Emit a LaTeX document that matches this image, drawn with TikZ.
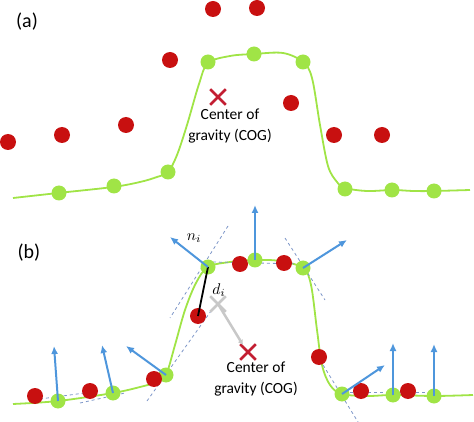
\documentclass[tikz,border=0pt]{standalone}
\usepackage{fontspec}
\setmainfont{Carlito}
\usetikzlibrary{arrows.meta,shapes.misc}
\definecolor{limeg}{RGB}{160,228,70}
\definecolor{reddot}{RGB}{200,16,16}
\definecolor{xred}{RGB}{195,30,50}
\definecolor{arrowblue}{RGB}{78,150,220}
\definecolor{dashblue}{RGB}{125,150,200}
\definecolor{greyx}{RGB}{200,200,200}
\newcommand{\biglbl}[1]{\scalebox{1.55}{$#1$}}
\begin{document}
\begin{tikzpicture}[x=1pt,y=-1pt,
  gdot/.style={circle, fill=limeg, minimum size=15pt, inner sep=0pt},
  rdot/.style={circle, fill=reddot, minimum size=16pt, inner sep=0pt},
  curve/.style={draw=limeg, line width=1.8pt},
  normalarrow/.style={draw=arrowblue, line width=2pt, -{Latex[length=8pt,width=7pt]}},
  tang/.style={draw=dashblue, dash pattern=on 3pt off 3pt, line width=0.8pt},
  xmark/.style={draw=#1, cross out, minimum size=13pt, inner sep=0pt, line width=2.6pt},
  lbl/.style={font=\fontsize{15.5}{21}\selectfont, align=center},
  panel/.style={font=\fontsize{20}{24}\selectfont},
  mathlbl/.style={inner sep=0pt}
]
\useasboundingbox (0,0) rectangle (474,422);

% ---------- panel (a) ----------
\node[panel] (la) at (27,22) {(a)};
\draw[curve] plot[smooth, tension=0.55] coordinates {(13,198) (58,193) (113,187) (140,182) (157,177) (168,172) (177,155) (187,125) (199,84) (208,63) (230,56) (254,54) (283,53) (303,62) (312,78) (320,125) (328,166) (337,182) (345,188) (367,191) (393,190) (413,191) (434,191) (470,190)};
\foreach \n/\p in {a1/{(59,193)}, a2/{(114,186)}, a3/{(168,172)}, a4/{(208,62)}, a5/{(254,54)}, a6/{(303,62)}, a7/{(345,189)}, a8/{(392,190)}, a9/{(434,191)}}
  \node[gdot] (\n) at \p {};
\foreach \n/\p in {ra1/{(8,142)}, ra2/{(62,135)}, ra3/{(126,125)}, ra4/{(170,60)}, ra5/{(213,9)}, ra6/{(257,8)}, ra7/{(291,103)}, ra8/{(334,135)}, ra9/{(382,135)}}
  \node[rdot] (\n) at \p {};
\node[xmark=xred] (coga) at (218,97) {};
\node[lbl] (tcoga) at (230,126) {Center of\\gravity (COG)};

% ---------- panel (b) ----------
\node[panel] (lb) at (29,253) {(b)};
\draw[curve] plot[smooth, tension=0.55] coordinates {(13,404) (58,401) (113,393) (140,387) (157,382) (166,375) (175,345) (185,310) (196,283) (208,267) (230,262) (255,260) (280,261) (303,268) (311,285) (317,330) (322,365) (330,385) (342,394) (367,396) (393,395) (434,396) (473,395)};
% tangents
\draw[tang] (40,399) -- (92,392);
\draw[tang] (80,403) -- (125,393);
\draw[tang] (147,401) -- (211,311);
\draw[tang] (228,226) -- (170,318);
\draw[tang] (213,262) -- (302,264);
\draw[tang] (285,238) -- (325,300);
\draw[tang] (320,360) -- (358,422);
\draw[tang] (350,392) -- (432,392);
% points
\foreach \n/\p in {b1/{(58,401)}, b2/{(113,393)}, b3/{(166,375)}, b4/{(208,267)}, b5/{(255,260)}, b6/{(303,268)}, b7/{(342,394)}, b8/{(393,395)}, b9/{(434,396)}}
  \node[gdot] (\n) at \p {};
\foreach \n/\p in {rb1/{(35,396)}, rb2/{(90,391)}, rb3/{(154,379)}, rb4/{(198,316)}, rb5/{(240,264)}, rb6/{(284,263)}, rb7/{(319,357)}, rb8/{(361,391)}, rb9/{(408,391)}}
  \node[rdot] (\n) at \p {};
% distance
\draw[black, line width=1.8pt] (b4.center) -- (rb4.center);
\node[mathlbl] (di) at (219,290) {\biglbl{d_i}};
% normals
\coordinate (t1) at (54,346);
\coordinate (t2) at (102,345);
\coordinate (t3) at (126,346);
\coordinate (t4) at (170,237);
\coordinate (t5) at (255,205);
\coordinate (t6) at (347,240);
\coordinate (t7) at (385,365);
\coordinate (t8) at (393,343);
\coordinate (t9) at (434,344);
\foreach \i in {1,...,9}
  \draw[normalarrow] (b\i.center) -- (t\i);
\node[mathlbl] (ni) at (194,238) {\biglbl{n_i}};
% COG
\node[xmark=greyx] (gx) at (218,304) {};
\node[xmark=xred] (cogb) at (248,352) {};
\draw[greyx, line width=2.5pt, -{Latex[length=5pt,width=6pt]}] (gx.center) -- (243,345);
\node[lbl] (tcogb) at (256,379) {Center of\\gravity (COG)};
\end{tikzpicture}
\end{document}
